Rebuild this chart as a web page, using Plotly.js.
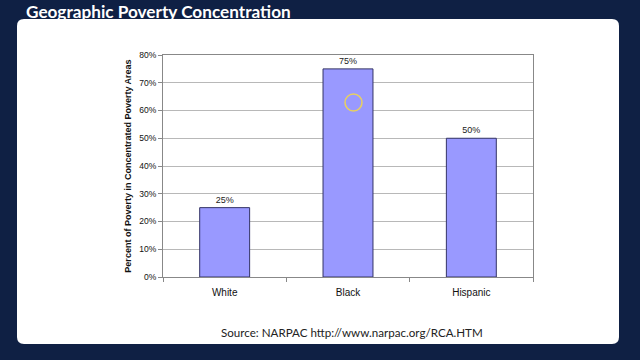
<!DOCTYPE html>
<html><head><meta charset="utf-8">
<script src="https://cdn.plot.ly/plotly-3.0.1.min.js"></script>
<style>html,body{margin:0;padding:0;background:#0f2044;}</style>
</head><body>
<div id="chart" style="width:640px;height:360px;"></div>
<script>
const categories = ["White", "Black", "Hispanic"];
const values = [0.25, 0.75, 0.50];
const labels = ["25%", "75%", "50%"];
const yTickVals = [0, 0.1, 0.2, 0.3, 0.4, 0.5, 0.6, 0.7, 0.8];
const yTickText = ["0%", "10%", "20%", "30%", "40%", "50%", "60%", "70%", "80%"];

const W = 640, H = 360, ML = 163, MR = 107, MT = 55, MB = 83;
const PW = W - ML - MR, PH = H - MT - MB;
function px(x){ return (x - ML) / PW; }
function py(y){ return (H - MB - y) / PH; }
function roundRect(x0, y0, x1, y1, r){
  const rx = r / PW, ry = r / PH;
  const a = px(x0), b = px(x1), t = py(y0), bo = py(y1);
  return `M${a+rx},${t} L${b-rx},${t} Q${b},${t} ${b},${t-ry} L${b},${bo+ry} Q${b},${bo} ${b-rx},${bo} L${a+rx},${bo} Q${a},${bo} ${a},${bo+ry} L${a},${t-ry} Q${a},${t} ${a+rx},${t} Z`;
}

const trace = {
  type: "bar", x: categories, y: values,
  marker: {color: "#9999ff", line: {color: "#333366", width: 1}},
  text: labels, textposition: "outside", cliponaxis: false,
  textfont: {family: "Liberation Sans, Arial, sans-serif", size: 9, color: "#222"},
  width: 0.405, hoverinfo: "skip"
};

const layout = {
  width: W, height: H,
  margin: {l: ML, r: MR, t: MT, b: MB},
  paper_bgcolor: "#0f2044", plot_bgcolor: "rgba(0,0,0,0)",
  showlegend: false,
  font: {family: "Liberation Sans, Arial, sans-serif", color: "#111"},
  xaxis: {
    type: "category", showgrid: false, zeroline: false,
    showline: true, linecolor: "#888", linewidth: 1, mirror: true,
    ticks: "outside", tickson: "boundaries", ticklen: 4, tickcolor: "#888",
    ticklabelstandoff: 6,
    tickfont: {size: 10, color: "#111"}
  },
  yaxis: {
    range: [0, 0.8], tickvals: yTickVals, ticktext: yTickText,
    showgrid: true, gridcolor: "#b8b8b8", gridwidth: 1, zeroline: false,
    showline: true, linecolor: "#888", linewidth: 1, mirror: true,
    ticks: "outside", ticklen: 4, tickcolor: "#888",
    tickfont: {size: 8.5, color: "#111"},
    title: {text: "<b>Percent of Poverty in Concentrated Poverty Areas</b>", font: {size: 9, color: "#111"}, standoff: 6}
  },
  shapes: [
    {type: "path", xref: "paper", yref: "paper", layer: "below",
     path: roundRect(17, 19, 619, 344, 7), fillcolor: "#ffffff", line: {width: 0}},
    {type: "circle", xref: "paper", yref: "paper", layer: "above",
     x0: px(345), x1: px(362), y0: py(111), y1: py(94),
     line: {color: "#e8d060", width: 1.5}, fillcolor: "rgba(0,0,0,0)"}
  ],
  annotations: [
    {text: "<b>Geographic Poverty Concentration</b>", xref: "paper", yref: "paper",
     x: px(24), y: py(11), xanchor: "left", yanchor: "middle", showarrow: false,
     font: {family: "Lato, Open Sans, sans-serif", size: 17.2, color: "#ffffff"}},
    {text: "Source: NARPAC http://www.narpac.org/RCA.HTM", xref: "paper", yref: "paper",
     x: px(352), y: py(332), xanchor: "center", yanchor: "middle", showarrow: false,
     font: {family: "Lato, Open Sans, sans-serif", size: 11.6, color: "#222"}}
  ]
};

Plotly.newPlot("chart", [trace], layout, {staticPlot: true, displayModeBar: false});
</script>
</body></html>
